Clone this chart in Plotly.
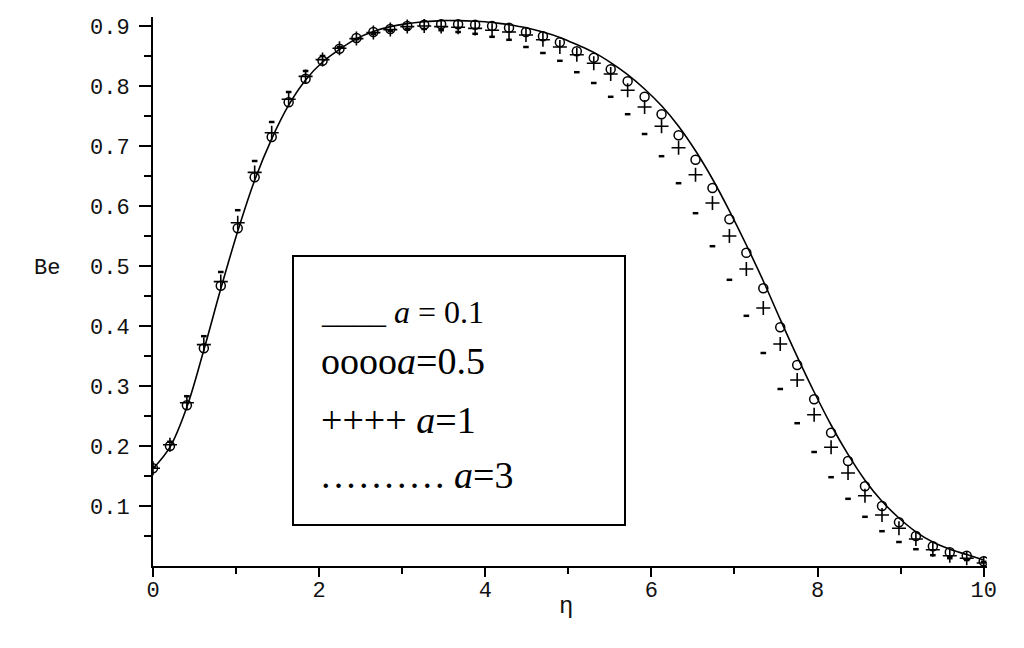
"""
Bejan number profiles Be(eta) for several values of a.
Recreates the Maple-style line/point plot with a boxed text legend.
"""

import plotly.graph_objects as go

# eta grid used by the point plots (50 points on [0, 10])
eta = [0.0, 0.204, 0.408, 0.612, 0.816, 1.020, 1.224, 1.429, 1.633, 1.837,
       2.041, 2.245, 2.449, 2.653, 2.857, 3.061, 3.265, 3.469, 3.673, 3.878,
       4.082, 4.286, 4.490, 4.694, 4.898, 5.102, 5.306, 5.510, 5.714, 5.918,
       6.122, 6.327, 6.531, 6.735, 6.939, 7.143, 7.347, 7.551, 7.755, 7.959,
       8.163, 8.367, 8.571, 8.776, 8.980, 9.184, 9.388, 9.592, 9.796, 10.0]

# a = 0.1 (solid line)
be_a01 = [0.162, 0.198, 0.265, 0.360, 0.462, 0.558, 0.643, 0.712, 0.768, 0.810,
          0.840, 0.861, 0.879, 0.891, 0.899, 0.904, 0.907, 0.909, 0.909, 0.908,
          0.906, 0.902, 0.897, 0.890, 0.881, 0.869, 0.856, 0.839, 0.819, 0.795,
          0.767, 0.733, 0.692, 0.645, 0.592, 0.535, 0.475, 0.411, 0.349, 0.290,
          0.235, 0.186, 0.143, 0.108, 0.080, 0.057, 0.040, 0.028, 0.019, 0.010]

# a = 0.5 (circles)
be_a05 = [0.163, 0.200, 0.268, 0.363, 0.467, 0.563, 0.648, 0.715, 0.773, 0.812,
          0.842, 0.862, 0.880, 0.890, 0.895, 0.900, 0.902, 0.903, 0.903, 0.902,
          0.900, 0.897, 0.890, 0.883, 0.873, 0.858, 0.847, 0.828, 0.808, 0.782,
          0.753, 0.718, 0.677, 0.630, 0.578, 0.522, 0.463, 0.398, 0.335, 0.278,
          0.222, 0.175, 0.133, 0.100, 0.073, 0.050, 0.033, 0.023, 0.017, 0.008]

# a = 1 (plus signs)
be_a1 = [0.163, 0.202, 0.272, 0.369, 0.474, 0.572, 0.656, 0.722, 0.778, 0.816,
         0.844, 0.863, 0.879, 0.889, 0.894, 0.899, 0.900, 0.899, 0.898, 0.896,
         0.893, 0.890, 0.885, 0.877, 0.865, 0.852, 0.838, 0.820, 0.793, 0.765,
         0.733, 0.697, 0.652, 0.605, 0.550, 0.495, 0.430, 0.370, 0.310, 0.252,
         0.198, 0.155, 0.117, 0.085, 0.063, 0.045, 0.027, 0.017, 0.013, 0.005]

# a = 3 (dots)
be_a3 = [0.165, 0.207, 0.283, 0.383, 0.490, 0.593, 0.675, 0.740, 0.790, 0.825,
         0.850, 0.865, 0.878, 0.887, 0.892, 0.895, 0.895, 0.893, 0.890, 0.887,
         0.882, 0.877, 0.865, 0.855, 0.842, 0.823, 0.805, 0.782, 0.753, 0.720,
         0.683, 0.638, 0.588, 0.533, 0.477, 0.417, 0.355, 0.295, 0.238, 0.190,
         0.148, 0.112, 0.082, 0.058, 0.040, 0.028, 0.018, 0.013, 0.010, 0.007]

HS = "\u200a"  # hair space, spreads the dot leader like the original
legend_rows = [
    "____ <i>a</i> = 0.1",
    "oooo<i>a</i>=0.5",
    "++++ <i>a</i>=1",
    HS.join(["."] * 10) + " <i>a</i>=3",
]

# plot area in pixels (1024 x 648 canvas); the page body adds an 8 px offset
L, R, T, B = 153, 987, 17, 566
W, H = 1024, 648
OFF = 8


def px_to_paper(px, py):
    """Convert canvas pixels to paper coordinates."""
    return (px - L) / (R - L), (B - py) / (B - T)


def build_figure() -> go.Figure:
    fig = go.Figure()

    fig.add_trace(go.Scatter(
        x=eta, y=be_a01, mode='lines', name='a = 0.1',
        line=dict(color='black', width=1.6, shape='spline'),
    ))
    fig.add_trace(go.Scatter(
        x=eta, y=be_a05, mode='markers', name='a = 0.5',
        marker=dict(symbol='circle-open', size=9, color='black',
                    line=dict(width=1.5, color='black')),
    ))
    fig.add_trace(go.Scatter(
        x=eta, y=be_a1, mode='markers', name='a = 1',
        marker=dict(symbol='cross-thin-open', size=10, color='black',
                    line=dict(width=1.6, color='black')),
    ))
    fig.add_trace(go.Scatter(
        x=eta, y=be_a3, mode='markers', name='a = 3',
        marker=dict(symbol='line-ew-open', size=4, color='black',
                    line=dict(width=2.5, color='black')),
    ))

    # boxed text legend
    x0, y0 = px_to_paper(293, 525)
    x1, y1 = px_to_paper(625, 256)
    fig.add_shape(type='rect', xref='paper', yref='paper',
                  x0=x0, y0=y0, x1=x1, y1=y1,
                  line=dict(color='black', width=2), fillcolor='white',
                  layer='above')

    row_y = [312, 361, 420, 475]
    row_size = [32, 38, 38, 38]
    for text, py, size in zip(legend_rows, row_y, row_size):
        xp, yp = px_to_paper(319, py)
        fig.add_annotation(
            text=text, xref='paper', yref='paper', x=xp, y=yp,
            xanchor='left', yanchor='middle', showarrow=False,
            font=dict(family='Liberation Serif', size=size, color='black'),
        )

    # axis titles (Maple puts them horizontally)
    xp, yp = px_to_paper(47, 268)
    fig.add_annotation(text='Be', xref='paper', yref='paper', x=xp, y=yp,
                       showarrow=False, xanchor='center', yanchor='middle',
                       font=dict(family='Liberation Mono', size=22, color='#111'))
    xp, yp = px_to_paper(566, 606)
    fig.add_annotation(text='η', xref='paper', yref='paper', x=xp, y=yp,
                       showarrow=False, xanchor='center', yanchor='middle',
                       font=dict(family='Liberation Mono', size=24, color='#111'))

    tick_font = dict(family='Liberation Mono', size=22, color='#111')
    fig.update_layout(
        width=W, height=H, autosize=False,
        margin=dict(l=L - OFF, r=W - R + OFF, t=T - OFF, b=H - B + OFF, pad=0),
        paper_bgcolor='white', plot_bgcolor='white',
        showlegend=False,
        xaxis=dict(
            range=[0, 10.04], showgrid=False, zeroline=False,
            showline=True, linecolor='black', linewidth=2,
            tickmode='array', tickvals=[0, 2, 4, 6, 8, 10],
            ticks='outside', ticklen=9, tickwidth=2, tickcolor='black',
            minor=dict(tickvals=[1, 3, 5, 7, 9], ticks='outside',
                       ticklen=6, tickwidth=2, tickcolor='black'),
            tickfont=tick_font, ticklabelstandoff=-6,
        ),
        yaxis=dict(
            range=[0, 0.915], showgrid=False, zeroline=False,
            showline=True, linecolor='black', linewidth=2,
            tickmode='array',
            tickvals=[0.1, 0.2, 0.3, 0.4, 0.5, 0.6, 0.7, 0.8, 0.9],
            ticktext=['0.1', '0.2', '0.3', '0.4', '0.5', '0.6', '0.7', '0.8', '0.9'],
            ticks='outside', ticklen=12, tickwidth=2, tickcolor='black',
            minor=dict(tickvals=[0.05, 0.15, 0.25, 0.35, 0.45, 0.55, 0.65, 0.75, 0.85],
                       ticks='outside', ticklen=7, tickwidth=2, tickcolor='black'),
            tickfont=tick_font, ticklabelstandoff=5,
        ),
    )
    return fig


def main():
    fig = build_figure()
    fig.write_html("out.html")


if __name__ == "__main__":
    main()
